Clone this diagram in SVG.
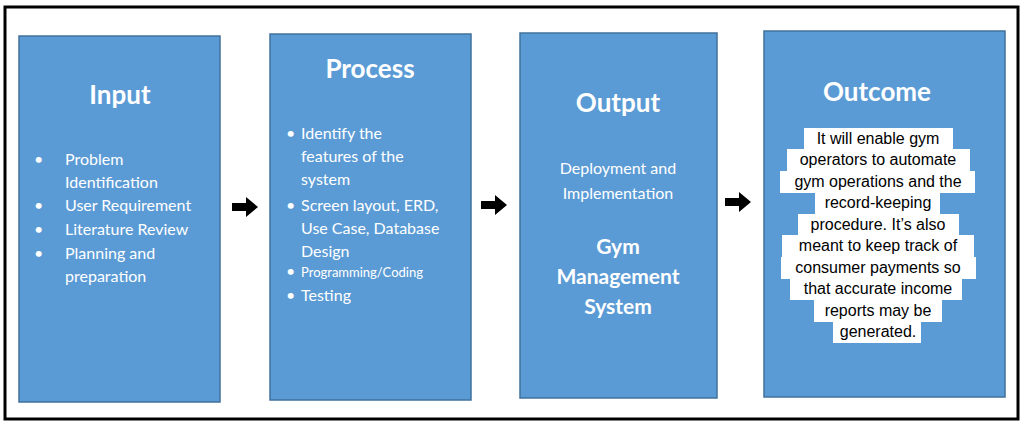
<svg xmlns="http://www.w3.org/2000/svg" width="1024" height="426" viewBox="0 0 1024 426">
<style>
.box{fill:#5b9bd5;stroke:#41719c;stroke-width:1.5}
.t{font-family:Lato,"Open Sans",sans-serif;fill:#fff}
.h{font-size:26px;font-weight:bold;text-anchor:middle}
.b{font-size:16px}
.o{font-family:"Liberation Sans",Arial,sans-serif;font-size:16px;fill:#000;text-anchor:middle}
.hl{fill:#fff}
</style>
<rect width="1024" height="426" fill="#fff"/>
<rect x="5" y="7" width="1013" height="412" fill="none" stroke="#000" stroke-width="3"/>
<g id="input">
<rect class="box" x="19" y="36" width="201" height="366"/>
<text class="t h" x="120" y="104">Input</text>
<g class="t b">
<text x="34" y="165">•</text><text x="65" y="165">Problem</text>
<text x="65" y="188">Identification</text>
<text x="34" y="211">•</text><text x="65" y="211">User Requirement</text>
<text x="34" y="235">•</text><text x="65" y="235">Literature Review</text>
<text x="34" y="259">•</text><text x="65" y="259">Planning and</text>
<text x="65" y="282">preparation</text>
</g>
</g>
<g id="process">
<rect class="box" x="270" y="34" width="201" height="366"/>
<text class="t h" x="370" y="78">Process</text>
<g class="t b">
<text x="286" y="139">•</text><text x="301" y="139">Identify the</text>
<text x="301" y="162">features of the</text>
<text x="301" y="185">system</text>
<text x="286" y="211">•</text><text x="301" y="211">Screen layout, ERD,</text>
<text x="301" y="234">Use Case, Database</text>
<text x="301" y="257">Design</text>
<text x="286" y="277">•</text><text x="301" y="277" style="font-size:13px">Programming/Coding</text>
<text x="286" y="301">•</text><text x="301" y="301">Testing</text>
</g>
</g>
<g id="output">
<rect class="box" x="520" y="33" width="197" height="365"/>
<text class="t h" x="618" y="112">Output</text>
<text class="t b" x="618" y="174" text-anchor="middle">Deployment and</text>
<text class="t b" x="618" y="199" text-anchor="middle">Implementation</text>
<g class="t" style="font-size:21px;font-weight:bold" text-anchor="middle">
<text x="618" y="254">Gym</text>
<text x="618" y="284">Management</text>
<text x="618" y="314">System</text>
</g>
</g>
<g id="outcome">
<rect class="box" x="764" y="31" width="241" height="366"/>
<text class="t h" x="877" y="101">Outcome</text>
<g class="hl">
<rect x="804" y="128" width="149" height="22"/>
<rect x="787" y="149" width="183" height="22"/>
<rect x="780" y="171" width="195" height="22"/>
<rect x="815" y="192" width="125" height="22"/>
<rect x="798" y="214" width="161" height="22"/>
<rect x="782" y="235" width="192" height="22"/>
<rect x="781" y="257" width="195" height="22"/>
<rect x="790" y="278" width="172" height="22"/>
<rect x="814" y="300" width="128" height="22"/>
<rect x="833" y="321" width="88" height="22"/>
</g>
<g class="o">
<text x="878" y="144">It will enable gym</text>
<text x="878" y="165">operators to automate</text>
<text x="878" y="187">gym operations and the</text>
<text x="878" y="208">record-keeping</text>
<text x="878" y="230">procedure. It’s also</text>
<text x="878" y="251">meant to keep track of</text>
<text x="878" y="273">consumer payments so</text>
<text x="878" y="294">that accurate income</text>
<text x="878" y="316">reports may be</text>
<text x="878" y="337">generated.</text>
</g>
</g>
<g id="connectors" fill="#000">
<path d="M232 203h14v-6l12 10-12 10v-6h-14z"/>
<path d="M481 201h14v-6l12 10-12 10v-6h-14z"/>
<path d="M725 198h14v-6l12 10-12 10v-6h-14z"/>
</g>
</svg>
